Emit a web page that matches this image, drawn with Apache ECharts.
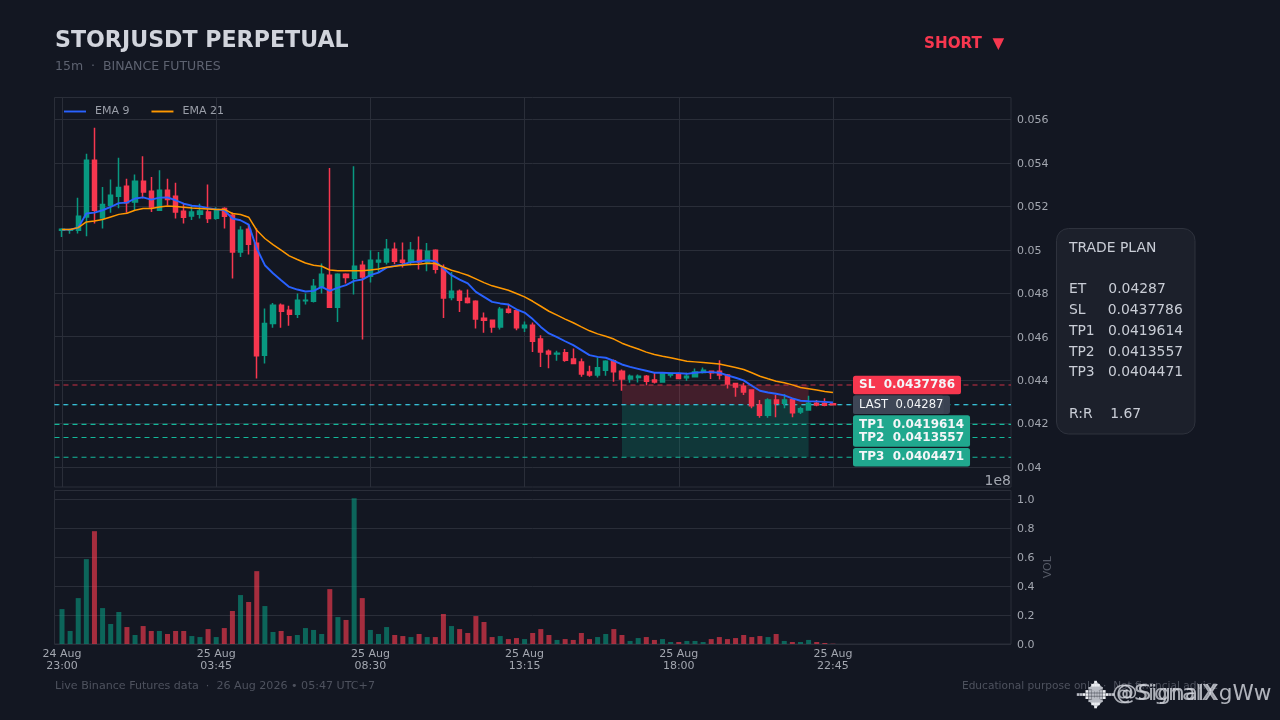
<!DOCTYPE html>
<html><head><meta charset="utf-8">
<style>html,body{margin:0;padding:0;background:#131722}#c{width:1280px;height:720px}</style>
<script src="https://cdn.jsdelivr.net/npm/echarts@6/dist/echarts.min.js"></script>
</head><body><div id="c"></div>
<script>
const opens=[.05090,.05090,.05090,.05151,.05412,.05146,.05205,.05246,.05293,.05220,.05315,.05269,.05182,.05274,.05246,.05177,.05156,.05163,.05174,.05145,.05190,.05159,.04990,.05094,.05030,.04515,.04661,.04745,.04722,.04703,.04765,.04763,.04826,.04883,.04736,.04887,.04869,.04929,.04878,.04944,.04944,.05002,.04952,.04943,.04998,.04944,.04998,.04914,.04780,.04809,.04777,.04763,.04685,.04676,.04645,.04726,.04719,.04641,.04653,.04589,.04533,.04520,.04526,.04497,.04483,.04437,.04423,.04446,.04489,.04441,.04405,.04412,.04418,.04400,.04391,.04424,.04426,.04411,.04415,.04435,.04441,.04441,.04423,.04385,.04372,.04354,.04285,.04238,.04308,.04294,.04311,.04253,.04262,.04293,.04293,.04291];
const closes=[.05094,.05092,.05154,.05412,.05182,.05209,.05251,.05287,.05217,.05315,.05266,.05197,.05274,.05231,.05174,.05150,.05174,.05178,.05144,.05186,.05154,.04990,.05090,.05025,.04512,.04661,.04745,.04717,.04703,.04768,.04768,.04832,.04887,.04736,.04887,.04872,.04924,.04875,.04952,.04952,.05002,.04947,.04943,.04998,.04944,.04993,.04910,.04778,.04809,.04768,.04757,.04681,.04676,.04645,.04726,.04713,.04641,.04653,.04579,.04530,.04520,.04524,.04492,.04477,.04428,.04423,.04457,.04487,.04438,.04405,.04418,.04418,.04395,.04391,.04429,.04431,.04408,.04418,.04437,.04446,.04434,.04423,.04382,.04368,.04345,.04282,.04238,.04308,.04294,.04308,.04250,.04268,.04294,.04286,.04284,.04287];
const lows=[.05059,.05074,.05075,.05062,.05121,.05098,.05171,.05191,.05171,.05182,.05237,.05174,.05178,.05205,.05144,.05121,.05137,.05144,.05123,.05138,.05098,.04868,.04967,.04978,.04408,.04477,.04641,.04641,.04650,.04686,.04748,.04757,.04799,.04734,.04668,.04845,.04794,.04587,.04849,.04898,.04932,.04933,.04918,.04929,.04909,.04901,.04891,.04686,.04768,.04714,.04753,.04638,.04618,.04618,.04633,.04707,.04630,.04622,.04530,.04460,.04455,.04489,.04484,.04476,.04415,.04415,.04412,.04420,.04392,.04351,.04388,.04389,.04376,.04385,.04391,.04412,.04406,.04397,.04412,.04431,.04405,.04403,.04362,.04323,.04332,.04270,.04227,.04227,.04229,.04270,.04229,.04244,.04259,.04280,.04280,.04283];
const highs=[.05099,.05097,.05240,.05442,.05562,.05289,.05323,.05424,.05327,.05346,.05430,.05335,.05366,.05327,.05309,.05214,.05205,.05212,.05301,.05196,.05196,.05172,.05108,.05117,.05098,.04730,.04755,.04753,.04742,.04799,.04799,.04866,.04937,.05376,.04892,.04892,.05385,.04949,.04998,.04990,.05050,.05033,.05033,.05036,.05061,.05031,.05002,.04932,.04898,.04817,.04817,.04768,.04711,.04679,.04737,.04751,.04722,.04670,.04665,.04607,.04541,.04535,.04543,.04546,.04500,.04466,.04504,.04492,.04495,.04449,.04426,.04426,.04423,.04434,.04434,.04435,.04434,.04434,.04454,.04458,.04443,.04491,.04428,.04388,.04388,.04356,.04308,.04316,.04331,.04336,.04313,.04277,.04328,.04308,.04316,.04293];
const ema9=[.05093,.05093,.05102,.05167,.05171,.05182,.05197,.05215,.05217,.05236,.05241,.05231,.05240,.05241,.05228,.05212,.05203,.05200,.05192,.05186,.05182,.05144,.05136,.05116,.05006,.04929,.04892,.04860,.04829,.04817,.04808,.04811,.04829,.04811,.04826,.04837,.04857,.04863,.04883,.04895,.04918,.04926,.04933,.04943,.04946,.04952,.04947,.04914,.04883,.04863,.04845,.04806,.04783,.04760,.04753,.04748,.04726,.04711,.04681,.04645,.04615,.04598,.04579,.04561,.04538,.04515,.04507,.04503,.04489,.04472,.04461,.04452,.04443,.04434,.04434,.04432,.04432,.04429,.04434,.04437,.04437,.04434,.04422,.04411,.04399,.04374,.04351,.04343,.04337,.04330,.04316,.04305,.04303,.04302,.04300,.04297];
const ema21=[.05093,.05093,.05102,.05128,.05132,.05139,.05151,.05163,.05168,.05182,.05190,.05190,.05197,.05201,.05199,.05196,.05192,.05190,.05188,.05185,.05186,.05167,.05162,.05150,.05090,.05052,.05024,.04998,.04972,.04955,.04939,.04929,.04924,.04907,.04904,.04903,.04903,.04903,.04907,.04912,.04920,.04924,.04929,.04932,.04933,.04938,.04937,.04921,.04906,.04895,.04883,.04866,.04849,.04834,.04824,.04814,.04799,.04783,.04763,.04740,.04717,.04699,.04681,.04664,.04645,.04627,.04613,.04602,.04589,.04570,.04556,.04543,.04529,.04518,.04510,.04503,.04495,.04487,.04484,.04481,.04478,.04474,.04466,.04458,.04449,.04434,.04418,.04406,.04395,.04388,.04378,.04366,.04360,.04354,.04348,.04343];
const volumes=[.241,.09,.317,.586,.779,.248,.138,.221,.117,.062,.124,.09,.09,.069,.09,.09,.055,.048,.103,.048,.11,.228,.338,.29,.503,.262,.083,.09,.055,.062,.11,.097,.069,.379,.186,.166,1.007,.317,.097,.069,.117,.062,.055,.048,.069,.048,.048,.207,.124,.103,.076,.193,.152,.048,.055,.034,.041,.034,.076,.103,.062,.028,.034,.028,.076,.034,.048,.069,.103,.062,.021,.041,.048,.028,.034,.014,.014,.021,.021,.014,.034,.048,.034,.041,.062,.048,.055,.048,.069,.021,.014,.014,.028,.014,.007,.002];
const priceTicks=[.04,.042,.044,.046,.048,.05,.052,.054,.056];
const volTicks=[0,.2,.4,.6,.8,1];
const timeTickIndex=[0,19,38,57,76,95];
const timeTickDay=['24 Aug','25 Aug','25 Aug','25 Aug','25 Aug','25 Aug'];
const timeTickClock=['23:00','03:45','08:30','13:15','18:00','22:45'];
const entry=.04287, stop=.0437786, tp1=.0419614, tp2=.0413557, tp3=.0404471;
const zoneStart=69, zoneEnd=92;
const levelNames=['SL','TP1','TP2','TP3'];
const levelPrices=[stop,tp1,tp2,tp3];
const levelText=['0.0437786','0.0419614','0.0413557','0.0404471'];
const tagX=97.47;

const FONT='"DejaVu Sans"';
const UP='#089981', DOWN='#f7374f', UPV='rgba(8,153,129,.6)', DOWNV='rgba(255,59,79,.62)';
const GRID='#2a2e39', BG='#131722', AX='#a3a7b0';
const X0=-0.924, X1=116.94;
const idx=opens.map((_,i)=>i);
const pts=a=>a.map((v,i)=>[i,v]);
function hline(price,color,dash,op,extra){return Object.assign({type:'line',xAxisIndex:0,yAxisIndex:0,z:1,silent:true,symbol:'none',animation:false,
  data:[[X0,price],[X1,price]],lineStyle:{color,width:1.1,type:dash,opacity:op}},extra||{});}

const tagRows=levelNames.map((n,i)=>({value:[tagX,levelPrices[i]],text:n+'  '+levelText[i],bg:n==='SL'?'#f7374f':'#20a88e'}));

const chart=echarts.init(document.getElementById('c'),null,{renderer:'canvas',width:1280,height:720});
const logo=[];
for(let dy=-4;dy<=4;dy++){for(let dx=-6;dx<=6;dx++){
  const inDiamond=Math.abs(dx)+Math.abs(dy)<=4||(dy===0);
  if(!inDiamond)continue;
  const bright=(Math.abs(dy)>=3)||(Math.abs(dx)>=3&&Math.abs(dy)<=1&&Math.abs(dx)<5);
  logo.push({type:'rect',x:1095.5+dx*2.9-1.3,y:694.5+dy*3.1-1.3,shape:{width:2.7,height:2.7},style:{fill:bright?'#eceef2':'#b9bcc4'},z:100,silent:true});
}}
logo.push({type:'polygon',shape:{points:[[1096,681],[1103,688],[1096,692],[1089,688]]},style:{fill:'#d0d3d9',opacity:.85},z:99,silent:true});
logo.push({type:'polygon',shape:{points:[[1096,708],[1103,701],[1096,697],[1089,701]]},style:{fill:'#d0d3d9',opacity:.85},z:99,silent:true});
const txt=(x,y,text,font,fill,align,extra)=>Object.assign({type:'text',x,y,silent:true,z:50,style:{text,font,fill,align:align||'left',verticalAlign:'middle'}},extra||{});

chart.setOption({
  animation:false,backgroundColor:BG,
  textStyle:{fontFamily:FONT},
  grid:[
    {left:54.5,right:269,top:97.5,height:389.5,show:true,borderColor:GRID,borderWidth:1,backgroundColor:'transparent'},
    {left:54.5,right:269,top:490.5,height:153.5,show:true,borderColor:GRID,borderWidth:1,backgroundColor:'transparent'}
  ],
  legend:{left:59,top:101,itemWidth:22,itemHeight:8,itemGap:22,data:['EMA 9','EMA 21'],
    textStyle:{color:'#9a9ea8',fontSize:11,fontFamily:FONT,padding:[0,0,0,4]},selectedMode:false,icon:'path://M0,0H23V2H0Z'},
  xAxis:[
    {type:'value',gridIndex:0,min:X0,max:X1,axisLine:{show:false},axisLabel:{show:false,customValues:timeTickIndex},
     axisTick:{show:false,customValues:timeTickIndex},splitLine:{show:true,lineStyle:{color:GRID,width:1}}},
    {type:'value',gridIndex:1,min:X0,max:X1,axisLine:{show:false},axisTick:{show:false,customValues:timeTickIndex},splitLine:{show:false},
     axisLabel:{show:true,customValues:timeTickIndex,color:AX,fontSize:11,fontFamily:FONT,lineHeight:12,margin:4,showMinLabel:true,showMaxLabel:true,
       formatter:v=>{const k=timeTickIndex.indexOf(v);return k<0?'':timeTickDay[k]+'\n'+timeTickClock[k];}}}
  ],
  yAxis:[
    {type:'value',gridIndex:0,position:'right',min:.03908,max:.05701,axisLine:{show:false},
     axisTick:{show:false,customValues:priceTicks},splitLine:{show:true,lineStyle:{color:GRID,width:1}},
     axisLabel:{customValues:priceTicks,color:AX,fontSize:11,fontFamily:FONT,margin:6,verticalAlign:'top',lineHeight:2,formatter:v=>String(+v.toFixed(3))}},
    {type:'value',gridIndex:1,position:'right',min:0,max:1.06,axisLine:{show:false},
     name:'VOL',nameLocation:'middle',nameGap:32,nameMoveOverlap:false,nameRotate:90,nameTextStyle:{color:'#555a66',fontSize:11,fontFamily:FONT},
     axisTick:{show:false,customValues:volTicks},splitLine:{show:true,lineStyle:{color:GRID,width:1}},
     axisLabel:{customValues:volTicks,color:AX,fontSize:11,fontFamily:FONT,margin:6,verticalAlign:'top',lineHeight:2,formatter:v=>v.toFixed(1)}}
  ],
  series:[
    hline(stop,'#f7374f',[5,4],.8,{name:'sl',
      markArea:{silent:true,z:1,data:[
        [{coord:[zoneStart,stop],itemStyle:{color:'rgba(255,59,79,.2)'}},{coord:[zoneEnd,entry]}],
        [{coord:[zoneStart,entry],itemStyle:{color:'rgba(8,153,129,.25)'}},{coord:[zoneEnd,tp3]}]
      ]}}),
    hline(entry,'#0fa890',[5,4],.9,{name:'et'}),
    hline(entry,'#4fc3f7',[4,5],.75,{name:'last'}),
    hline(tp1,'#14b89a',[5,4],1,{name:'tp1'}),
    hline(tp2,'#14b89a',[5,4],1,{name:'tp2'}),
    hline(tp3,'#14b89a',[5,4],1,{name:'tp3'}),
    {type:'candlestick',name:'price',xAxisIndex:0,yAxisIndex:0,z:3,barWidth:4.6,
     encode:{x:0,y:[1,2,3,4]},
     data:idx.map(i=>[i,opens[i],closes[i],lows[i],highs[i]]),
     itemStyle:{color:UP,color0:DOWN,borderColor:UP,borderColor0:DOWN,borderWidth:1.5}},
    {type:'line',name:'EMA 9',xAxisIndex:0,yAxisIndex:0,z:4,symbol:'none',data:pts(ema9),lineStyle:{color:'#2962ff',width:1.9},itemStyle:{color:'#2962ff'}},
    {type:'line',name:'EMA 21',xAxisIndex:0,yAxisIndex:0,z:4,symbol:'none',data:pts(ema21),lineStyle:{color:'#ff9800',width:1.5},itemStyle:{color:'#ff9800'}},
    {type:'bar',name:'vol',xAxisIndex:1,yAxisIndex:1,z:3,barWidth:5,
     data:idx.map(i=>({value:[i,volumes[i]],itemStyle:{color:closes[i]>opens[i]?UPV:DOWNV}}))},
    {type:'scatter',name:'boxes',xAxisIndex:0,yAxisIndex:0,z:10,symbolSize:0,silent:true,clip:false,itemStyle:{opacity:1},
     data:[
       {value:[tagX,entry],label:{width:85,backgroundColor:'#3a4252',formatter:' ',padding:[3,6]}},
       {value:[tagX,entry],label:{width:79,backgroundColor:'#3e4656',formatter:' ',padding:[3,6]}},
       ...tagRows.map(r=>({value:r.value,label:{backgroundColor:r.bg,formatter:r.text,color:'rgba(0,0,0,0)',fontWeight:'bold',fontSize:12,padding:[3,6]}}))
     ],
     label:{show:true,position:'right',distance:0,fontFamily:FONT,fontSize:12,lineHeight:12.5,height:12.5,borderRadius:2.5,color:'rgba(0,0,0,0)'}},
    {type:'scatter',name:'tags',xAxisIndex:0,yAxisIndex:0,z:11,symbolSize:0,silent:true,clip:false,itemStyle:{opacity:1},
     data:[
       {value:[tagX,entry],label:{formatter:'LAST  0.04287',fontWeight:'normal',fontSize:11.6}},
       ...tagRows.map(r=>({value:r.value,label:{formatter:r.text,fontWeight:'bold',fontSize:12}}))
     ],
     label:{show:true,position:'right',distance:0,fontFamily:FONT,color:'#f4f6f8',lineHeight:12.5,padding:[3,6]}}
  ],
  graphic:[
    txt(55,41,'STORJUSDT PERPETUAL','bold 22.15px '+FONT,'#d1d4dc'),
    txt(55,66.5,'15m  ·  BINANCE FUTURES','12.5px '+FONT,'#5d6270'),
    txt(924,44,'SHORT  ▼','bold 15.2px '+FONT,'#f7374f'),
    txt(1011,481.5,'1e8','14px '+FONT,'#a3a7b0','right'),
    {type:'rect',x:1056.5,y:228.5,shape:{width:138.5,height:205.5,r:12},style:{fill:'#1c202b',stroke:'#2e323d',lineWidth:1},z:40,silent:true},
    {type:'text',x:1069,y:238,z:50,silent:true,style:{text:'TRADE PLAN\n\nET     0.04287\nSL     0.0437786\nTP1   0.0419614\nTP2   0.0413557\nTP3   0.0404471\n\nR:R    1.67',font:'13.9px '+FONT,fill:'#c9cdd6',lineHeight:20.75,align:'left',verticalAlign:'top'}},
    txt(55,686,'Live Binance Futures data  ·  26 Aug 2026 • 05:47 UTC+7','11.1px '+FONT,'#4e525e'),
    txt(1218,686,'Educational purpose only  ·  Not financial advice','10.6px '+FONT,'#4e525e','right'),
    ...logo,
    txt(1112,694.5,'@SignalX','22px '+FONT,'rgba(216,219,226,.75)','left',{z:101}),
    txt(1116,694.5,'@SignalXgWw','21.6px '+FONT,'rgba(216,219,226,.8)','left',{z:101})
  ]
});
</script></body></html>
